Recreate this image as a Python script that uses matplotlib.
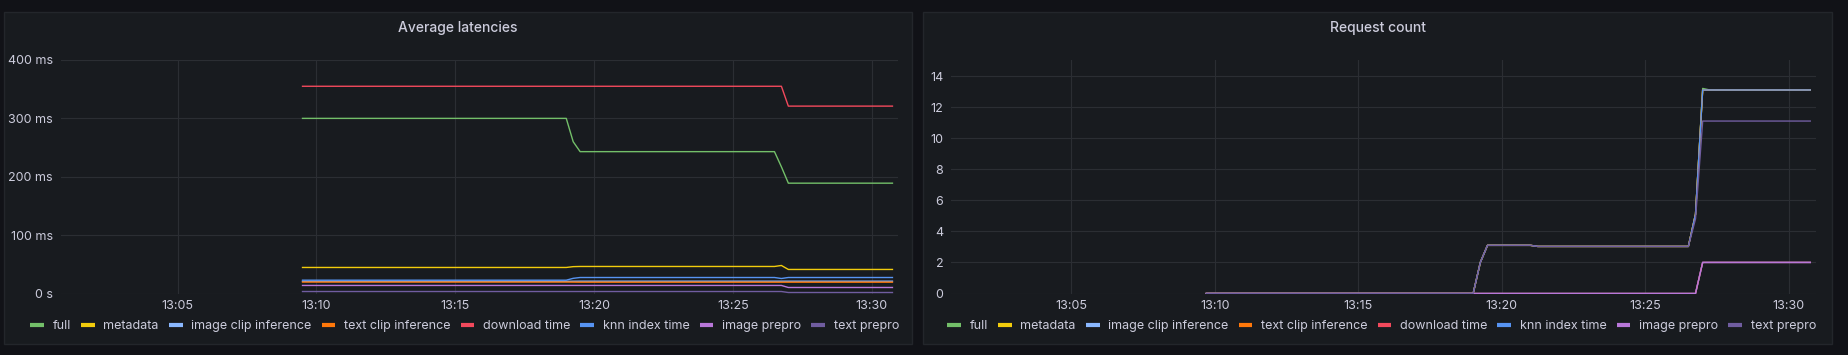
import matplotlib
matplotlib.use('Agg')
import matplotlib.pyplot as plt
from matplotlib.lines import Line2D
from matplotlib.patches import Rectangle
from matplotlib.ticker import FixedLocator, FuncFormatter

# time in minutes after 13:00
lat_times = [9.5, 19.0, 19.25, 19.5, 26.5, 26.75, 27.0, 30.75]
lat_full = [300, 300, 260, 243, 243, 217, 189, 189]
lat_metadata = [44.6, 44.6, 46.0, 46.3, 46.3, 48.0, 41.2, 41.2]
lat_image_clip = [20.8, 20.8, 21.0, 21.1, 21.1, 21.1, 21.1, 21.1]
lat_text_clip = [19.6, 19.6, 19.5, 19.4, 19.4, 19.4, 19.4, 19.4]
lat_download = [355, 355, 355, 355, 355, 355, 321, 321]
lat_knn = [22.8, 22.8, 26.0, 27.4, 27.4, 25.7, 27.4, 27.4]
lat_image_prepro = [13.8, 13.8, 13.8, 13.8, 13.8, 13.8, 10.3, 10.3]
lat_text_prepro = [3.4, 3.4, 3.4, 3.4, 3.4, 3.4, 1.7, 1.7]

req_times = [9.7, 19.0, 19.25, 19.5, 21.0, 21.25, 26.5, 26.75, 27.0, 27.25, 30.75]
req_full = [0, 0, 2.0, 3.1, 3.1, 3.03, 3.03, 5.1, 13.2, 13.1, 13.1]
req_metadata = [0, 0, 2.0, 3.1, 3.1, 3.03, 3.03, 5.1, 13.1, 13.1, 13.1]
req_image_clip = [0, 0, 0, 0, 0, 0, 0, 0, 2.0, 2.0, 2.0]
req_text_clip = [0, 0, 2.0, 3.1, 3.1, 3.03, 3.03, 5.1, 13.1, 13.1, 13.1]
req_download = [0, 0, 0, 0, 0, 0, 0, 0, 2.0, 2.0, 2.0]
req_knn = [0, 0, 2.0, 3.1, 3.1, 3.03, 3.03, 5.1, 13.1, 13.1, 13.1]
req_image_prepro = [0, 0, 0, 0, 0, 0, 0, 0, 2.0, 2.0, 2.0]
req_text_prepro = [0, 0, 2.0, 3.1, 3.1, 3.03, 3.03, 4.8, 11.1, 11.1, 11.1]

series_names = ['full', 'metadata', 'image clip inference', 'text clip inference',
                'download time', 'knn index time', 'image prepro', 'text prepro']
series_colors = ['#73BF69', '#F2CC0C', '#8AB8FF', '#FF780A',
                 '#F2495C', '#5794F2', '#B877D9', '#705DA0']

time_ticks = [5, 10, 15, 20, 25, 30]
lat_ticks = [0, 100, 200, 300, 400]
req_ticks = [0, 2, 4, 6, 8, 10, 12, 14]

lat_series = [lat_full, lat_metadata, lat_image_clip, lat_text_clip,
              lat_download, lat_knn, lat_image_prepro, lat_text_prepro]
req_series = [req_full, req_metadata, req_image_clip, req_text_clip,
              req_download, req_knn, req_image_prepro, req_text_prepro]

W, H = 1848, 355
PAGE_BG = '#111217'
PANEL_BG = '#181b1f'
TEXT = '#ccccdc'
GRID = '#2b2e33'

plt.rcParams['font.family'] = ['Inter', 'DejaVu Sans']
plt.rcParams['axes.unicode_minus'] = False

fig = plt.figure(figsize=(W / 100, H / 100), dpi=100, facecolor=PAGE_BG)


def box(x0, x1, ytop, ybot):
    return [x0 / W, 1 - ybot / H, (x1 - x0) / W, (ybot - ytop) / H]


def add_panel(x0, x1, title):
    r = Rectangle((x0 / W, 1 - 344 / H), (x1 - x0) / W, (344 - 12) / H,
                  transform=fig.transFigure, facecolor=PANEL_BG,
                  edgecolor='#23262b', lw=1, zorder=0)
    fig.add_artist(r)
    fig.text((x0 + x1) / 2 / W, 1 - 28 / H, title, ha='center', va='center',
             color=TEXT, fontsize=10, fontweight='medium')


def fmt_time(v, pos):
    return '13:%02d' % int(round(v))


def fmt_ms(v, pos):
    return '0 s' if v == 0 else '%d ms' % v


def style_axes(ax, ylim, yticks, yfmt, ypad):
    ax.set_facecolor(PANEL_BG)
    ax.patch.set_alpha(0)
    for s in ax.spines.values():
        s.set_visible(False)
    ax.set_xlim(0.8, 30.95)
    ax.set_ylim(*ylim)
    ax.xaxis.set_major_locator(FixedLocator(time_ticks))
    ax.xaxis.set_major_formatter(FuncFormatter(fmt_time))
    ax.yaxis.set_major_locator(FixedLocator(yticks))
    ax.yaxis.set_major_formatter(FuncFormatter(yfmt))
    ax.grid(True, color=GRID, lw=0.8)
    ax.set_axisbelow(True)
    ax.tick_params(axis='x', length=0, pad=5, labelsize=9, labelcolor=TEXT)
    ax.tick_params(axis='y', length=0, pad=ypad, labelsize=9, labelcolor=TEXT)


def add_legend(ax, x_left):
    handles = [Line2D([], [], color=c, lw=3, solid_capstyle='butt') for c in series_colors]
    leg = ax.legend(handles, series_names, loc='center left',
                    bbox_to_anchor=(x_left / W, 1 - 326 / H),
                    bbox_transform=fig.transFigure, ncol=8, frameon=False,
                    fontsize=9, handlelength=1.1, handletextpad=0.7,
                    columnspacing=0.8, borderpad=0, borderaxespad=0)
    for t in leg.get_texts():
        t.set_color(TEXT)


# left panel: average latencies
add_panel(4, 912, 'Average latencies')
ax1 = fig.add_axes(box(61, 898, 60, 293.5))
style_axes(ax1, (0, 400), lat_ticks, fmt_ms, 6)
for vals, c in zip(lat_series, series_colors):
    ax1.plot(lat_times, vals, color=c, lw=1)
add_legend(ax1, 30)

# right panel: request count
add_panel(923, 1832, 'Request count')
ax2 = fig.add_axes(box(951, 1816, 60, 293.5))
style_axes(ax2, (0, 15.03), req_ticks, lambda v, p: '%d' % v, 5.5)
for vals, c in zip(req_series, series_colors):
    ax2.plot(req_times, vals, color=c, lw=1)
add_legend(ax2, 947)

fig.savefig('out.png', dpi=100, facecolor=PAGE_BG)
